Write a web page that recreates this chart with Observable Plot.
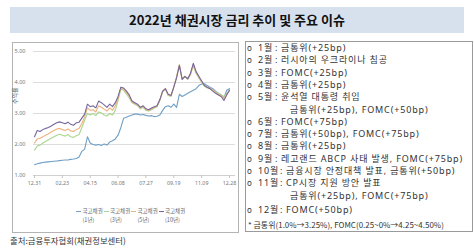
<!DOCTYPE html>
<html><head><meta charset="utf-8">
<script src="https://cdn.jsdelivr.net/npm/d3@7"></script>
<script src="https://cdn.jsdelivr.net/npm/@observablehq/plot@0.6"></script>
<style>
body{margin:0;background:#fff;font-family:"Noto Sans CJK KR","Noto Sans",sans-serif;}
#wrap{position:relative;width:474px;height:252px;overflow:hidden;}
.abs{position:absolute;}
#title{left:10px;top:7px;width:454px;height:26px;background:#d7e1ee;font-weight:bold;font-size:13px;line-height:26px;text-align:center;color:#111;}
#panel{left:12px;top:42px;width:225px;height:189px;border:1px solid #b4b4b4;}
#chart{left:0;top:42px;}
#ytitle{left:10px;top:104px;font-size:6px;color:#555;transform:rotate(-90deg);transform-origin:left top;}
.leg{font-size:5.5px;color:#666;line-height:9px;}
.sw{display:inline-block;width:5px;height:1.2px;vertical-align:middle;margin-right:1.5px;}
#box{left:245px;top:41px;width:226px;height:189px;border:1px solid #9a9a9a;}
.ln{font-family:"Noto Sans","Noto Sans CJK KR",sans-serif;font-size:9px;letter-spacing:0.85px;color:#333;white-space:nowrap;line-height:12px;left:247px;}
.ln span{display:inline-block;}
.c1{width:11px;font-size:8px;}
.c2{width:17px;}
.c2w{width:22px;}
.c3{width:6px;}
#note{font-family:"Noto Sans CJK KR",sans-serif;font-size:7.9px;letter-spacing:0.05px;left:248px;top:219px;}
#src{left:10px;top:234px;font-size:8.4px;color:#333;}
</style></head>
<body><div id="wrap"></div>
<script>
const categories = ["국고채권 (1년)", "국고채권 (3년)", "국고채권 (5년)", "국고채권 (10년)"];
const seriesKeys = ["1년", "3년", "5년", "10년"];
const colors = ["#6f9fc6", "#a9d68c", "#efb27c", "#75679e"];
const tickLabels = ["12.31", "02.23", "04.15", "06.08", "07.27", "09.19", "11.09", "12.28"];
const yTicks = [1, 2, 3, 4, 5];
const y1 = [1.35,1.38,1.40,1.42,1.43,1.44,1.45,1.46,1.47,1.48,
  1.49,1.50,1.50,1.52,1.53,1.55,1.60,1.78,1.85,2.25,
  2.05,2.00,1.98,2.00,1.97,2.02,1.98,2.08,2.12,2.18,
  2.30,2.55,2.85,2.88,2.92,2.95,2.98,2.98,2.95,2.97,
  2.94,2.92,2.93,2.90,2.91,2.95,3.10,3.22,3.25,3.20,
  3.30,3.20,3.62,3.55,3.60,3.65,3.70,3.75,3.80,3.90,
  3.95,3.96,3.90,3.85,3.80,3.72,3.65,3.60,3.52,3.75,3.80];
const y3 = [1.82,1.95,1.98,2.05,2.10,2.15,2.20,2.25,2.30,2.33,
  2.30,2.27,2.32,2.25,2.23,2.28,2.32,2.55,2.78,3.00,
  2.95,3.00,2.93,3.05,3.02,2.95,2.92,3.00,2.95,3.10,
  3.42,3.78,3.75,3.62,3.50,3.35,3.30,3.25,3.15,3.20,
  3.10,3.08,3.12,3.18,3.22,3.42,3.70,3.78,3.58,3.55,
  3.85,4.18,4.55,4.10,4.18,4.10,4.25,4.55,4.30,4.15,
  4.00,3.88,3.82,3.80,3.75,3.68,3.65,3.60,3.55,3.65,3.75];
const y5 = [2.05,2.18,2.20,2.25,2.30,2.35,2.40,2.45,2.50,2.52,
  2.48,2.45,2.50,2.44,2.42,2.48,2.52,2.68,2.90,3.18,
  3.10,3.12,3.05,3.25,3.20,3.14,3.08,3.18,3.10,3.25,
  3.50,3.82,3.80,3.68,3.55,3.38,3.32,3.28,3.18,3.23,
  3.13,3.10,3.15,3.20,3.24,3.45,3.72,3.80,3.60,3.58,
  3.85,4.18,4.58,4.12,4.20,4.12,4.28,4.58,4.32,4.18,
  4.03,3.90,3.85,3.82,3.75,3.68,3.62,3.58,3.48,3.62,3.76];
const y10 = [2.25,2.45,2.42,2.48,2.52,2.55,2.60,2.65,2.70,2.73,
  2.70,2.67,2.72,2.65,2.62,2.70,2.72,2.85,2.98,3.30,
  3.22,3.25,3.18,3.40,3.35,3.28,3.20,3.30,3.22,3.35,
  3.55,3.85,3.82,3.72,3.60,3.40,3.35,3.30,3.20,3.25,
  3.15,3.12,3.18,3.22,3.25,3.45,3.72,3.80,3.62,3.58,
  3.85,4.15,4.55,4.10,4.20,4.12,4.30,4.62,4.35,4.20,
  4.05,3.90,3.85,3.80,3.72,3.65,3.60,3.55,3.42,3.60,3.75];
const issues = [
  ["o","1월",":","금통위(+25bp)"],
  ["o","2월",":","러시아의 우크라이나 침공"],
  ["o","3월",":","FOMC(+25bp)"],
  ["o","4월",":","금통위(+25bp)"],
  ["o","5월",":","윤석열 대통령 취임"],
  ["","","","금통위(+25bp), FOMC(+50bp)"],
  ["o","6월",":","FOMC(+75bp)"],
  ["o","7월",":","금통위(+50bp), FOMC(+75bp)"],
  ["o","8월",":","금통위(+25bp)"],
  ["o","9월",":","레고랜드 ABCP 사태 발생, FOMC(+75bp)"],
  ["o","10월",":","금융시장 안정대책 발표, 금통위(+50bp)"],
  ["o","11월",":","CP시장 지원 방안 발표"],
  ["","","","금통위(+25bp), FOMC(+75bp)"],
  ["o","12월",":","FOMC(+50bp)"]
];
const note = "* 금통위(1.0%→3.25%), FOMC(0.25~0%→4.25~4.50%)";
const titleText = "2022년 채권시장 금리 추이 및 주요 이슈";
const sourceText = "출처:금융투자협회(채권정보센터)";
const yTitle = "수익률";

const allSeries = [y1, y3, y5, y10];
const rows = [];
allSeries.forEach((arr, s) => arr.forEach((v, i) => rows.push({i, v, s: seriesKeys[s]})));

const wrap = document.getElementById("wrap");
function add(id, cls, html){const d=document.createElement("div");if(id)d.id=id;d.className="abs "+(cls||"");d.innerHTML=html||"";wrap.appendChild(d);return d;}
add("title","",titleText);
add("panel","","");
add("box","","");

const chart = Plot.plot({
  width: 240, height: 150,
  marginLeft: 33, marginRight: 5, marginTop: 9, marginBottom: 17,
  style: {background: "transparent", fontFamily: "Noto Sans, sans-serif"},
  x: {domain: [-0.36, 72.15], axis: null, label: null},
  y: {domain: [1, 5], axis: null, label: null},
  color: {domain: seriesKeys, range: colors},
  marks: [
    Plot.gridY(yTicks.slice(1), {stroke: "#d4d4d4", strokeOpacity: 1, strokeWidth: 0.8}),
    Plot.ruleY([1], {stroke: "#c4c4c4", strokeWidth: 0.8}),
    Plot.axisY(yTicks, {label: null, tickSize: 0, tickPadding: 8, fontSize: 5.5, fill: "#777", tickFormat: d => d.toFixed(2)}),
    Plot.axisX(d3.range(0, 71, 10), {label: null, tickSize: 3, tickPadding: 3, fontSize: 5.3, fill: "#777", stroke: "#c4c4c4", tickFormat: d => tickLabels[d / 10]}),
    Plot.lineY(rows, {x: "i", y: "v", z: "s", stroke: "s", strokeWidth: 1.1})
  ]
});
const c = add("chart","",""); c.appendChild(chart);

add("ytitle","",yTitle);

// legend
const legX = [76, 103.5, 131, 158.5];
categories.forEach((cat, k) => {
  const [a, b] = cat.split(" ");
  const d = add("", "leg", `<span class="sw" style="background:${colors[k]}"></span>${a}<br><span style="padding-left:6.5px">${b}</span>`);
  d.style.left = legX[k] + "px"; d.style.top = "207px";
});

// issues box
issues.forEach((r, k) => {
  const top = 42 + k * 12.3 + (k >= 13 ? 2.5 : 0);
  let html;
  if (r[0]) {
    const wide = r[1].length > 2;
    html = `<span class="c1">${r[0]}</span><span class="${wide ? "c2w" : "c2"}">${r[1]}</span><span class="c3">${r[2]}</span><span>${r[3]}</span>`;
  } else {
    html = `<span style="width:43px"></span><span>${r[3]}</span>`;
  }
  const d = add("", "ln", html);
  d.style.top = top + "px";
});
add("note", "ln", note);

add("src","",sourceText);
</script></body></html>
